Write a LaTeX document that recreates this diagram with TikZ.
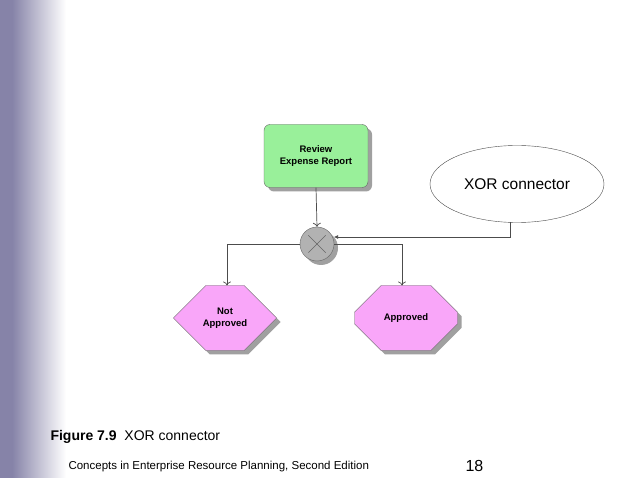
\documentclass[tikz,border=0pt]{standalone}
\usepackage{fontspec}
\setmainfont{Liberation Sans}
\usetikzlibrary{shapes.geometric,shapes.misc,arrows.meta,shadows,calc}
\definecolor{sidebar}{HTML}{8683A8}
\definecolor{fgreen}{HTML}{99F09A}
\definecolor{fpink}{HTML}{F9A6F9}
\definecolor{shade}{HTML}{A0A0A0}
\begin{document}
\begin{tikzpicture}[x=1pt,y=-1pt,
  conn/.style={draw=black!70,line width=0.7pt,-{To[length=4pt,width=8pt]}},
  sh/.style={drop shadow={shadow xshift=4pt,shadow yshift=-4pt,fill=shade,opacity=1}},
  func/.style={draw=black!60,fill=fgreen,rounded corners=6pt,minimum width=104pt,minimum height=63pt,align=center,font=\bfseries\fontsize{9.5}{12}\selectfont,sh},
  evt/.style={draw=black!60,fill=fpink,chamfered rectangle,chamfered rectangle xsep=13pt,chamfered rectangle ysep=32pt,chamfered rectangle corners={north west,south west,north east,south east},minimum width=103pt,minimum height=65pt,inner sep=0pt,align=center,font=\bfseries\fontsize{9.5}{12}\selectfont,sh}]
\useasboundingbox (0,0) rectangle (638,478);
\fill[white] (0,0) rectangle (638,478);
\fill[sidebar] (0,0) rectangle (12,478);
\shade[left color=sidebar,right color=white] (12,0) rectangle (66,478);
\node[func] (rev) at (316,156) {Review\\Expense Report};
\node[circle,draw=black!60,fill=black!30,minimum size=34pt,inner sep=0pt,sh] (xor) at (317,244) {};
\draw[black!60,line width=0.5pt,shorten >=5pt,shorten <=5pt] (xor.45) -- (xor.225);
\draw[black!60,line width=0.5pt,shorten >=5pt,shorten <=5pt] (xor.135) -- (xor.315);
\node[evt] (na) at (225,318) {Not\\Approved};
\node[evt] (ap) at (406,318) {Approved};
\node[ellipse,draw=black!70,fill=white,minimum width=174pt,minimum height=77pt,inner sep=0pt,font=\fontsize{15.5}{18}\selectfont] (lab) at (517,184) {XOR connector};
\coordinate (lb) at (510,222.5);
\coordinate (nat) at (227,285.5);
\coordinate (apt) at (402,285.5);
\coordinate (xin) at (334,237);
\draw[conn] (rev.south) -- (xor.north);
\draw[conn] (xor.west) -| (nat);
\draw[conn] (xor.east) -| (apt);
\draw[draw=black!70,line width=0.7pt,-{Latex[length=4pt,width=4pt]}] (lb) |- (xin);
\node[anchor=base west,font=\fontsize{14}{16}\selectfont] (fig) at (47,441) {\textbf{Figure 7.9}\ \ XOR connector};
\node[anchor=base west,font=\fontsize{11.5}{14}\selectfont] (foot) at (65,470) {Concepts in Enterprise Resource Planning, Second Edition};
\node[anchor=base west,font=\fontsize{16}{18}\selectfont] (pg) at (462,472) {18};
\end{tikzpicture}
\end{document}
